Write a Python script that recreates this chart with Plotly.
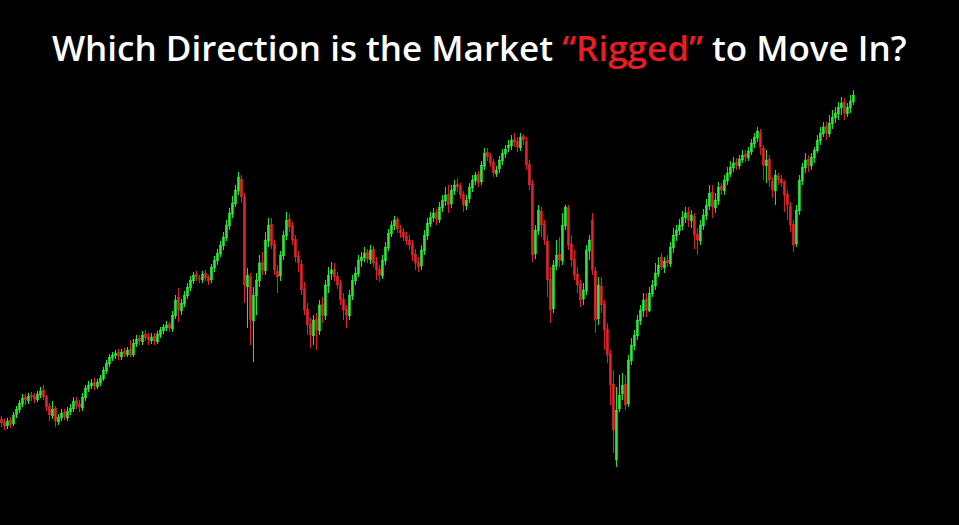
"""
Candlestick chart: Which Direction is the Market "Rigged" to Move In?
"""

import plotly.graph_objects as go

# OHLC values, one row of ten bars per line
opens = [
    106, 103, 99, 105, 101, 110, 115, 121, 128, 124,
    130, 129, 125, 130, 135, 128, 119, 109, 117, 103,
    107, 113, 107, 113, 116, 125, 121, 117, 127, 136,
    139, 143, 138, 142, 146, 154, 161, 167, 169, 173,
    168, 174, 170, 176, 170, 181, 187, 183, 191, 188,
    184, 189, 183, 190, 194, 197, 201, 196, 209, 228,
    214, 221, 229, 237, 244, 251, 247, 245, 252, 248,
    245, 257, 264, 271, 279, 287, 299, 311, 321, 334,
    346, 328, 238, 248, 204, 229, 244, 263, 254, 284,
    301, 281, 254, 249, 269, 289, 306, 299, 286, 269,
    261, 236, 216, 201, 189, 206, 194, 221, 209, 239,
    251, 256, 249, 241, 226, 216, 209, 229, 244, 251,
    264, 267, 273, 265, 276, 263, 256, 249, 264, 277,
    291, 299, 306, 295, 293, 289, 285, 281, 271, 263,
    259, 274, 289, 301, 307, 313, 305, 317, 324, 331,
    321, 334, 341, 339, 331, 319, 326, 337, 344, 351,
    343, 359, 373, 369, 363, 351, 356, 364, 371, 377,
    379, 386, 384, 377, 389, 384, 361, 341, 271, 294,
    314, 301, 284, 246, 216, 259, 271, 264, 299, 317,
    281, 266, 251, 241, 226, 234, 274, 305, 254, 206,
    239, 221, 196, 171, 141, 65, 116, 131, 141, 121,
    164, 179, 189, 204, 214, 226, 214, 231, 239, 251,
    268, 257, 265, 261, 277, 289, 294, 299, 307, 313,
    304, 309, 291, 284, 299, 309, 319, 333, 317, 324,
    339, 334, 344, 351, 357, 363, 359, 365, 371, 367,
    373, 381, 387, 393, 377, 359, 366, 344, 334, 349,
    346, 343, 331, 319, 301, 281, 314, 344, 357, 366,
    359, 367, 374, 384, 391, 399, 391, 401, 407, 411,
    417, 423, 411, 417, 423,
]
highs = [
    109, 106, 107, 108, 113, 119, 125, 131, 131, 132,
    133, 132, 134, 138, 140, 130, 122, 124, 119, 111,
    116, 116, 118, 121, 128, 128, 125, 132, 140, 144,
    146, 147, 146, 150, 158, 165, 171, 173, 175, 176,
    176, 177, 178, 185, 186, 190, 190, 194, 195, 192,
    192, 192, 194, 198, 201, 204, 203, 214, 230, 237,
    226, 234, 242, 249, 253, 254, 250, 254, 255, 250,
    261, 269, 276, 284, 293, 305, 317, 329, 340, 353,
    350, 332, 257, 252, 238, 252, 270, 273, 293, 307,
    307, 285, 260, 274, 294, 313, 311, 303, 290, 274,
    265, 243, 222, 207, 210, 212, 225, 228, 245, 258,
    263, 262, 253, 245, 232, 220, 235, 250, 258, 270,
    273, 278, 276, 280, 279, 268, 260, 270, 283, 296,
    304, 309, 308, 300, 297, 293, 290, 285, 276, 268,
    280, 295, 307, 313, 317, 316, 323, 330, 338, 340,
    340, 345, 347, 342, 334, 330, 342, 350, 353, 354,
    364, 377, 377, 372, 366, 359, 369, 376, 380, 385,
    390, 392, 388, 392, 391, 388, 365, 345, 300, 320,
    318, 305, 290, 258, 265, 285, 288, 312, 320, 320,
    290, 275, 258, 245, 242, 280, 290, 312, 258, 248,
    248, 225, 202, 175, 155, 138, 150, 152, 150, 170,
    187, 195, 210, 220, 232, 232, 238, 245, 262, 268,
    272, 268, 270, 283, 297, 300, 306, 314, 318, 318,
    315, 312, 297, 305, 316, 326, 340, 340, 332, 343,
    342, 350, 358, 364, 368, 367, 370, 375, 375, 378,
    386, 392, 398, 396, 380, 375, 370, 348, 355, 352,
    350, 345, 335, 323, 305, 320, 350, 362, 372, 370,
    372, 378, 390, 398, 403, 403, 410, 415, 418, 423,
    428, 427, 422, 430, 435,
]
lows = [
    98, 95, 96, 97, 99, 107, 112, 118, 120, 121,
    124, 122, 123, 127, 125, 114, 104, 106, 98, 100,
    104, 105, 104, 110, 113, 116, 113, 114, 124, 133,
    136, 135, 136, 139, 144, 151, 158, 164, 166, 165,
    165, 168, 168, 168, 168, 178, 180, 180, 184, 180,
    181, 180, 181, 187, 191, 194, 193, 193, 206, 203,
    210, 218, 226, 234, 241, 244, 242, 242, 244, 240,
    242, 253, 260, 268, 275, 284, 295, 307, 318, 330,
    322, 222, 197, 180, 163, 210, 238, 250, 250, 278,
    276, 250, 232, 244, 265, 285, 293, 280, 263, 253,
    230, 210, 190, 177, 180, 175, 190, 202, 205, 232,
    245, 244, 236, 220, 205, 197, 205, 225, 240, 248,
    258, 263, 262, 261, 258, 245, 243, 246, 260, 274,
    288, 295, 292, 287, 284, 280, 275, 264, 255, 253,
    255, 270, 285, 298, 303, 300, 302, 313, 319, 312,
    317, 330, 333, 326, 313, 315, 322, 333, 340, 338,
    340, 355, 364, 358, 348, 348, 352, 360, 367, 373,
    375, 378, 373, 374, 380, 355, 335, 263, 266, 290,
    288, 280, 228, 202, 212, 255, 258, 260, 295, 275,
    258, 245, 232, 218, 220, 230, 265, 250, 192, 200,
    212, 175, 162, 120, 72, 58, 113, 125, 115, 118,
    160, 175, 185, 200, 208, 208, 213, 228, 235, 248,
    255, 252, 258, 258, 272, 284, 290, 295, 302, 298,
    297, 276, 270, 280, 295, 305, 315, 307, 312, 320,
    330, 330, 340, 348, 353, 355, 356, 362, 363, 364,
    370, 377, 383, 370, 345, 342, 338, 327, 320, 340,
    338, 313, 305, 293, 273, 278, 310, 340, 352, 353,
    355, 362, 372, 380, 388, 385, 388, 396, 402, 405,
    410, 405, 408, 412, 420,
]
closes = [
    102, 99, 104, 100, 110, 116, 122, 127, 125, 129,
    128, 126, 131, 134, 128, 118, 110, 116, 104, 108,
    112, 108, 114, 117, 124, 120, 118, 128, 137, 140,
    142, 139, 143, 147, 155, 162, 168, 170, 172, 169,
    173, 171, 175, 170, 182, 186, 184, 190, 187, 185,
    188, 184, 191, 195, 198, 200, 197, 210, 225, 215,
    222, 230, 238, 245, 250, 248, 246, 251, 247, 244,
    258, 265, 272, 280, 288, 300, 312, 322, 335, 348,
    328, 240, 250, 205, 230, 245, 262, 255, 285, 300,
    280, 255, 248, 270, 290, 305, 298, 285, 268, 262,
    235, 215, 200, 190, 205, 195, 220, 210, 240, 250,
    255, 248, 240, 225, 215, 210, 230, 245, 252, 265,
    268, 272, 266, 275, 262, 255, 250, 265, 278, 292,
    300, 305, 296, 292, 288, 284, 280, 270, 262, 258,
    275, 290, 302, 308, 312, 306, 318, 325, 330, 320,
    335, 340, 338, 330, 320, 325, 338, 345, 350, 342,
    360, 372, 368, 362, 352, 355, 365, 372, 376, 380,
    385, 383, 378, 388, 385, 360, 340, 270, 295, 315,
    300, 285, 245, 215, 260, 270, 265, 300, 318, 280,
    265, 250, 240, 225, 235, 275, 285, 255, 205, 240,
    220, 195, 170, 140, 95, 115, 130, 140, 120, 165,
    180, 190, 205, 215, 225, 215, 232, 240, 252, 260,
    258, 264, 262, 278, 290, 295, 300, 308, 312, 305,
    310, 290, 285, 300, 310, 320, 332, 318, 325, 338,
    335, 345, 352, 358, 362, 360, 366, 370, 368, 374,
    382, 388, 394, 378, 360, 365, 345, 335, 350, 345,
    342, 330, 320, 300, 280, 315, 345, 358, 365, 360,
    368, 375, 385, 392, 398, 392, 402, 408, 412, 418,
    422, 412, 418, 424, 430,
]
bars = list(range(len(closes)))

fig = go.Figure()

fig.add_trace(go.Candlestick(
    x=bars,
    open=opens,
    high=highs,
    low=lows,
    close=closes,
    increasing=dict(line=dict(color='#2ee83c', width=1), fillcolor='#2ee83c'),
    decreasing=dict(line=dict(color='#e3242b', width=1), fillcolor='#e3242b'),
    whiskerwidth=0,
    showlegend=False,
    hoverinfo='skip'
))

fig.add_annotation(
    text='Which Direction is the Market '
         '<span style="color:#ec1c24">“Rigged”</span> to Move In?',
    xref='paper', yref='paper',
    x=0.5, y=0.91,
    xanchor='center', yanchor='middle',
    showarrow=False,
    font=dict(family='Open Sans', size=35, color='white', weight=600)
)

fig.update_layout(
    width=959,
    height=525,
    margin=dict(l=0, r=0, t=0, b=0),
    paper_bgcolor='black',
    plot_bgcolor='black',
    xaxis=dict(range=[-0.5, 319.2], visible=False, rangeslider=dict(visible=False)),
    yaxis=dict(range=[0, 525], visible=False),
)

fig.write_html("out.html", config={'displayModeBar': False},
               post_script="document.body.style.margin='0';")
